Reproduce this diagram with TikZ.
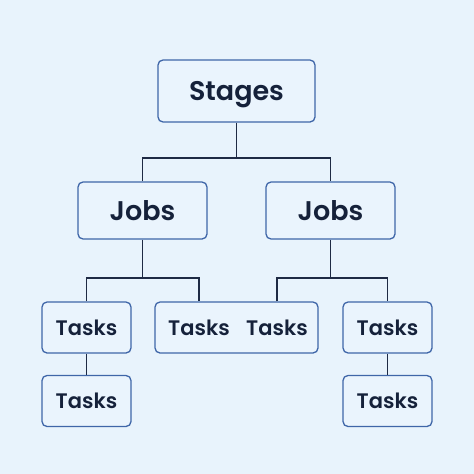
\documentclass[tikz,border=0pt]{standalone}
\usepackage{fontspec}
\setmainfont{Poppins}[UprightFont={* SemiBold}, BoldFont={* Bold}]
\begin{document}
\begin{tikzpicture}[x=1pt,y=-1pt,
  box/.style={draw=boxblue, line width=1.3pt, fill=boxfill, rounded corners=5pt, inner sep=0pt},
  big/.style={box, font=\fontsize{27}{30}\selectfont\color{txt}},
  small/.style={box, font=\fontsize{21}{24}\selectfont\color{txt}},
  lbl/.style={font=\fontsize{21}{24}\selectfont\color{txt}, inner sep=0pt},
  conn/.style={draw=linec, line width=1.4pt}]
\definecolor{bg}{HTML}{E8F3FC}
\definecolor{boxfill}{HTML}{EAF4FD}
\definecolor{boxblue}{HTML}{3F66A8}
\definecolor{linec}{HTML}{1E2A44}
\definecolor{txt}{HTML}{15213A}
\fill[bg] (0,0) rectangle (474,474);
\useasboundingbox (0,0) rectangle (474,474);
% boxes
\node[big, text depth=0pt, minimum width=157pt, minimum height=62pt] (stages) at (236.5,91) {Stages};
\node[big, minimum width=129pt, minimum height=57pt] (jobsL) at (142.5,210.5) {Jobs};
\node[big, minimum width=129pt, minimum height=57pt] (jobsR) at (330.5,210.5) {Jobs};
\node[small, minimum width=89pt, minimum height=51pt] (tL1) at (86.5,327.5) {Tasks};
\node[small, minimum width=89pt, minimum height=51pt] (tL2) at (86.5,401) {Tasks};
\node[box, minimum width=163pt, minimum height=51pt] (tM) at (236.5,327.5) {};
\node[lbl] (tM1) at (199,327.5) {Tasks};
\node[lbl] (tM2) at (277,327.5) {Tasks};
\node[small, minimum width=89pt, minimum height=51pt] (tR1) at (387.5,327.5) {Tasks};
\node[small, minimum width=89pt, minimum height=51pt] (tR2) at (387.5,401) {Tasks};
% junctions
\coordinate (j0) at (236.5,158);
\coordinate (j1) at (142.5,278);
\coordinate (j2) at (330.5,278);
% connectors
\draw[conn] (stages.south) -- (j0);
\draw[conn] (jobsL.north) -- (jobsL.north |- j0) -- (jobsR.north |- j0) -- (jobsR.north);
\draw[conn] (jobsL.south) -- (j1);
\draw[conn] (tL1.north) -- (tL1.north |- j1) -- (tM1 |- j1) -- (tM1 |- tM.north);
\draw[conn] (jobsR.south) -- (j2);
\draw[conn] (tM2 |- tM.north) -- (tM2 |- j2) -- (tR1.north |- j2) -- (tR1.north);
\draw[conn] (tL1.south) -- (tL2.north);
\draw[conn] (tR1.south) -- (tR2.north);
\end{tikzpicture}
\end{document}
